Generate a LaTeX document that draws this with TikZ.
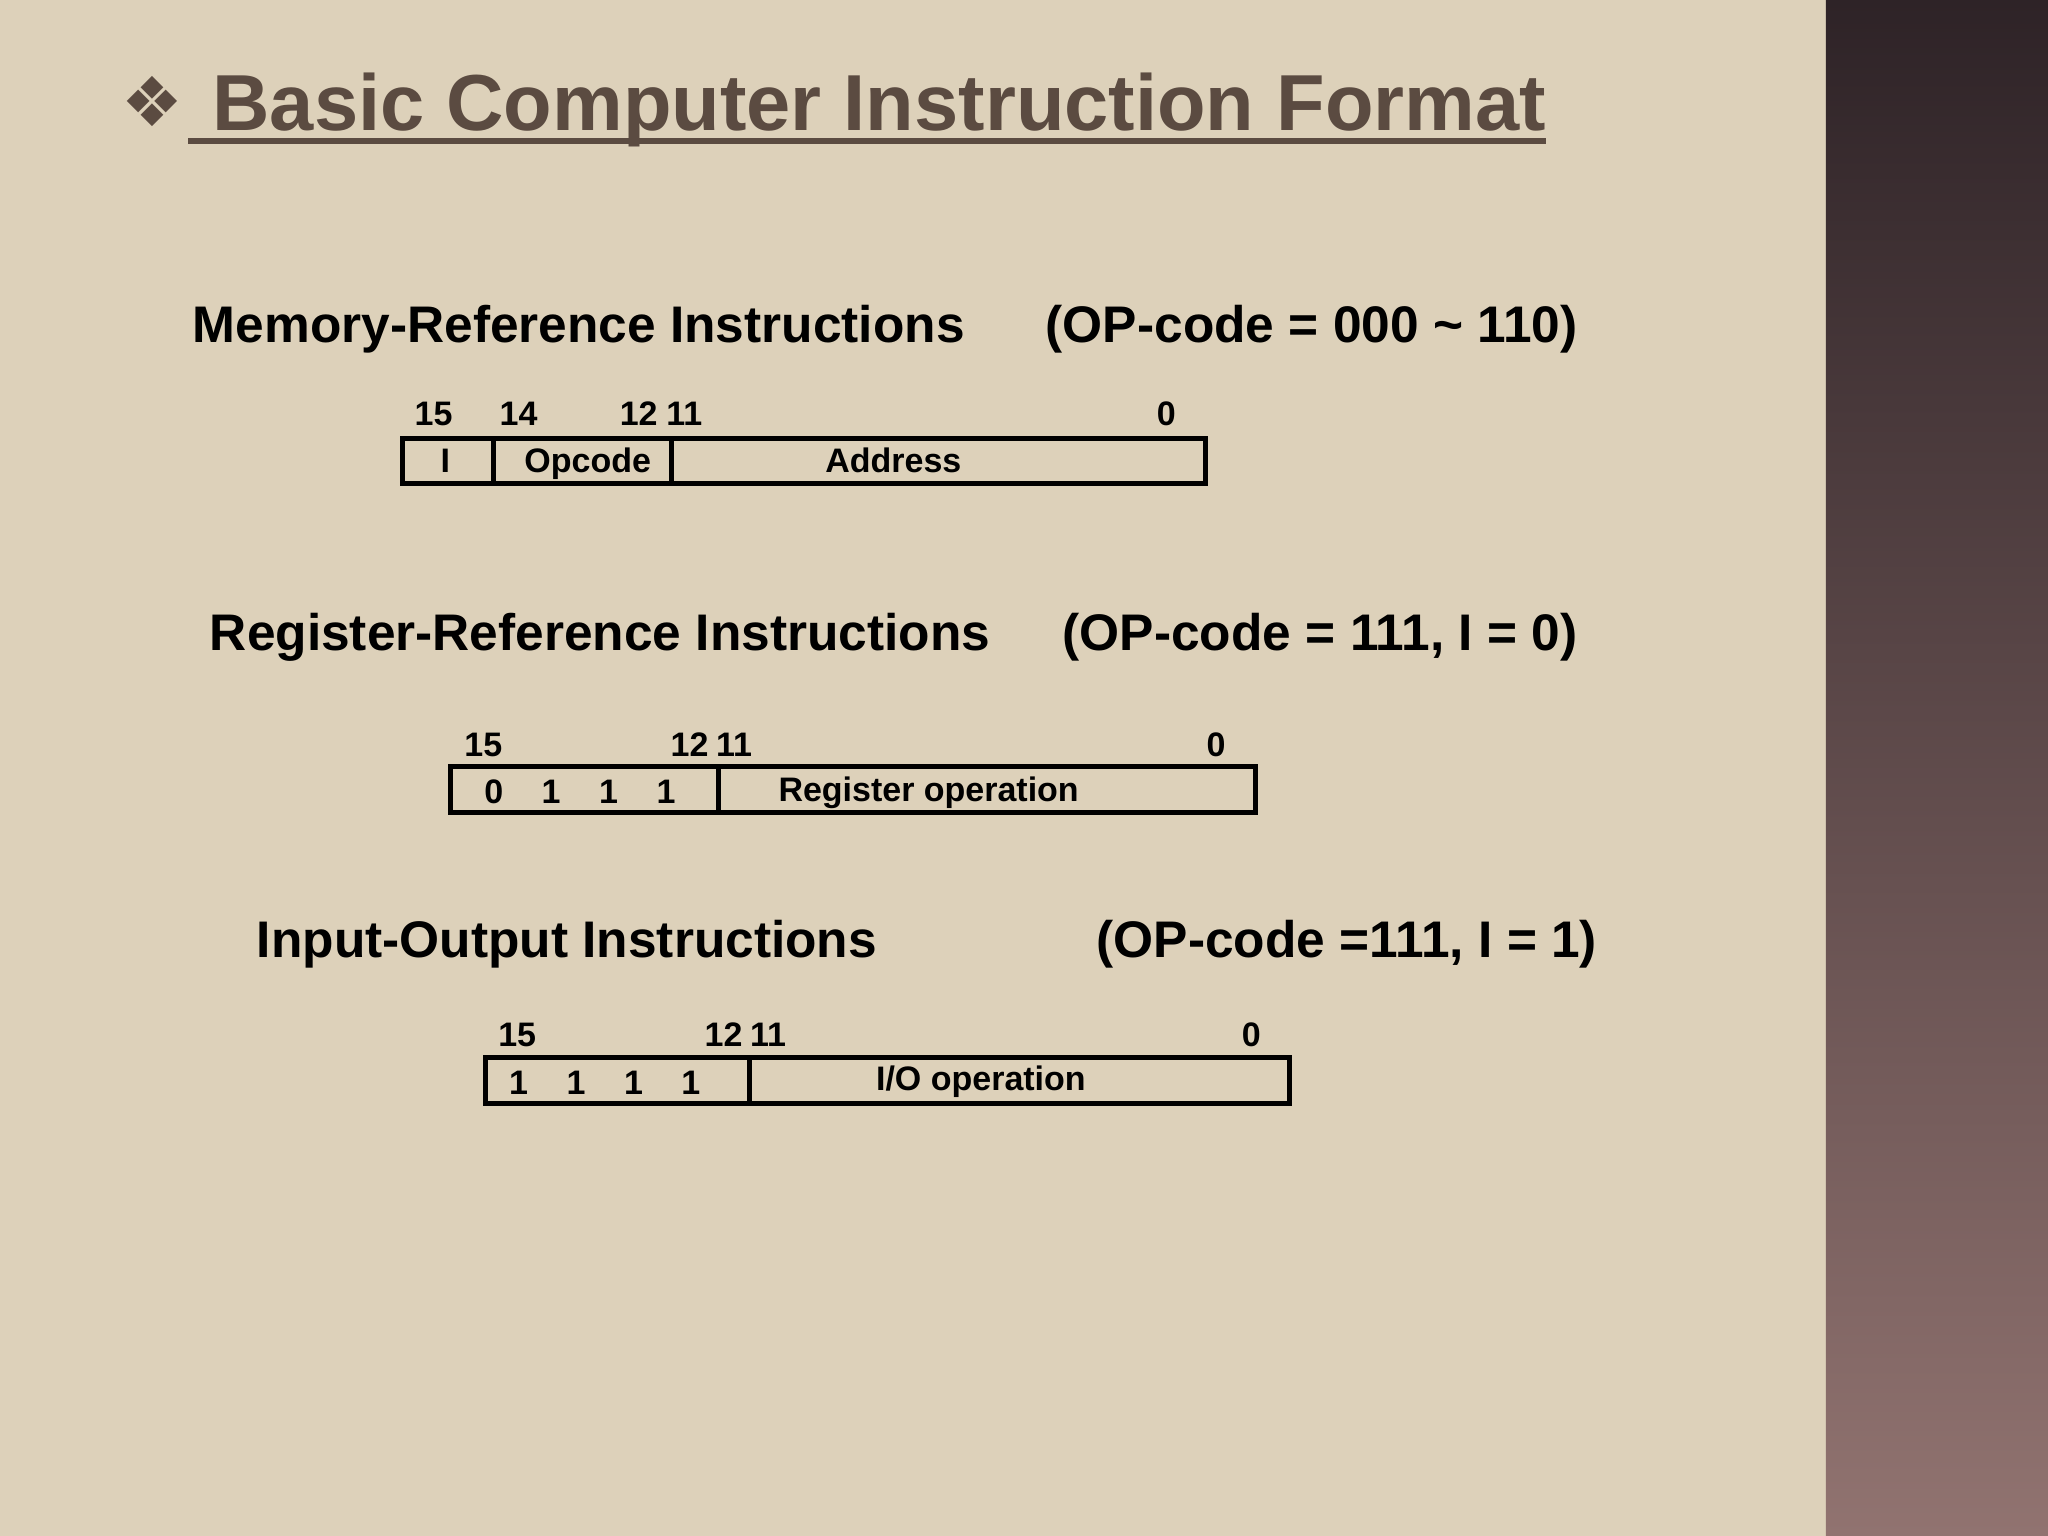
\documentclass[tikz,border=0pt]{standalone}
\usepackage{fontspec}
\setmainfont{Liberation Sans}
\newfontfamily\symf{DejaVu Sans}
\begin{document}
\begin{tikzpicture}[x=0.01cm,y=-0.01cm,
  hd/.style={anchor=base west,font=\fontsize{11.2}{14}\selectfont\bfseries,inner sep=0},
  sm/.style={anchor=base,font=\fontsize{7.4}{9}\selectfont\bfseries,inner sep=0},
  bx/.style={draw=black,line width=1.1pt}]
\definecolor{bg}{HTML}{DDD1BA}
\definecolor{tt}{HTML}{5B4B41}
\definecolor{stripT}{HTML}{2E2327}
\definecolor{stripB}{HTML}{917370}
\useasboundingbox (0,0) rectangle (1568,1176);
\fill[bg] (0,0) rectangle (1398,1176);
\shade[top color=stripT, bottom color=stripB] (1398,0) rectangle (1568,1176);
\node[anchor=center,text=tt,font=\symf\fontsize{15}{18}\selectfont] (dia) at (117,78) {❖};
\node[anchor=base west,inner sep=0,text=tt,font=\fontsize{17.3}{21}\selectfont\bfseries] (title) at (162,100) {Basic Computer Instruction Format};
\draw[tt,line width=1.3pt] (144,108) -- (1184,108);
% headings
\node[hd] (h1) at (147,262) {Memory-Reference Instructions};
\node[hd] (o1) at (800,262) {(OP-code = 000 \textasciitilde\ 110)};
\node[hd] (h2) at (160,498) {Register-Reference Instructions};
\node[hd] (o2) at (813,498) {(OP-code = 111, I = 0)};
\node[hd] (h3) at (196,733) {Input-Output Instructions};
\node[hd] (o3) at (839,733) {(OP-code =111, I = 1)};
% box 1
\draw[bx] (308,336) rectangle (923,370);
\draw[bx] (378,336) -- (378,370); \draw[bx] (514,336) -- (514,370);
\foreach \t/\x in {15/332,14/397,12/489,11/524,0/893} \node[sm] at (\x,326) {\t};
\node[sm] (i1) at (341,362) {I};
\node[sm] (op1) at (450,362) {Opcode};
\node[sm] (ad1) at (684,362) {Address};
% box 2
\draw[bx] (345,587) rectangle (961,622);
\draw[bx] (550,587) -- (550,622);
\foreach \t/\x in {15/370,12/528,11/562,0/931} \node[sm] at (\x,579) {\t};
\foreach \t/\x in {0/378,1/422,1/466,1/510} \node[sm] at (\x,615) {\t};
\node[sm] (r2) at (711,614) {Register operation};
% box 3
\draw[bx] (372,810) rectangle (987,845);
\draw[bx] (574,810) -- (574,845);
\foreach \t/\x in {15/396,12/554,11/588,0/958} \node[sm] at (\x,801) {\t};
\foreach \t/\x in {1/397,1/441,1/485,1/529} \node[sm] at (\x,838) {\t};
\node[sm] (r3) at (751,835) {I/O operation};
\end{tikzpicture}
\end{document}
